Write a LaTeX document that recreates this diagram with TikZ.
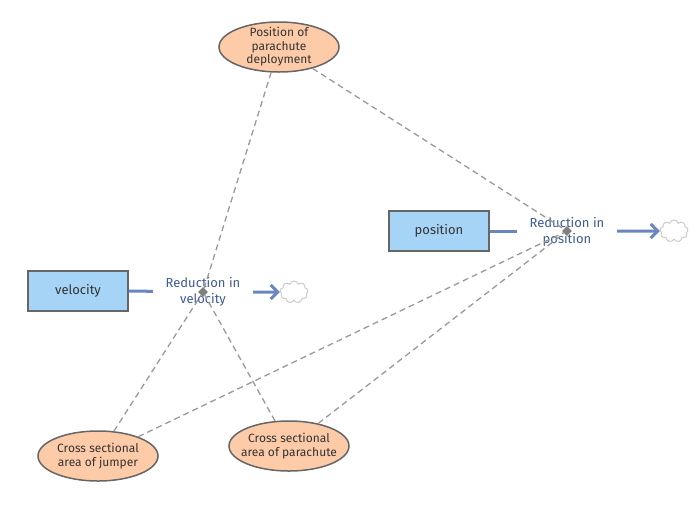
\documentclass[tikz,border=0pt]{standalone}
\usepackage{fontspec}
\setmainfont{Fira Sans}
\usetikzlibrary{shapes.geometric, shapes.symbols, positioning, arrows.meta}
\definecolor{stockblue}{HTML}{A6D4F7}
\definecolor{auxorange}{HTML}{FDCBA8}
\definecolor{flowblue}{HTML}{6A86BF}
\definecolor{flowtext}{HTML}{3D5A99}
\tikzset{stock/.style={draw=black!60, line width=1.5pt, fill=stockblue, minimum width=100pt, minimum height=40pt, font=\fontsize{13}{15}\selectfont, text=black!80},
aux/.style={ellipse, draw=black!60, line width=1.5pt, fill=auxorange, minimum width=120pt, minimum height=50pt, inner sep=-6pt, align=center, font=\fontsize{12}{13.5}\selectfont, text=black!80},
valve/.style={diamond, fill=gray, inner sep=2.5pt},
flowlabel/.style={align=center, text=flowtext, font=\fontsize{13}{16}\selectfont, fill=white, inner sep=1pt},
sink/.style={cloud, cloud puffs=9, draw=black!20, line width=1pt, fill=white, minimum width=28pt, minimum height=22pt},
flow/.style={draw=flowblue, line width=3pt},
link/.style={draw=black!40, line width=1.3pt, dash pattern=on 6pt off 4pt}}
\begin{document}
\begin{tikzpicture}[x=1pt, y=-1pt]
    \useasboundingbox (0,0) rectangle (698,504);
    \node[aux] (deploy) at (279,47) {Position of\\parachute\\deployment};
    \node[aux] (jumper) at (98,456) {Cross sectional\\area of jumper};
    \node[aux] (chute) at (289,446) {Cross sectional\\area of parachute};
    \node[stock] (pos) at (439,231) {position};
    \node[stock] (vel) at (78,291) {velocity};
    \coordinate (cpos) at (567,231);
    \coordinate (cvel) at (203,292);
    \node[sink] (spos) at (674,231) {};
    \node[sink] (svel) at (294,292) {};
    % flows
    \draw[flow] (pos.east) -- (cpos);
    \draw[flow, -{Straight Barb[length=7pt,width=14pt]}] (cpos) -- (spos);
    \draw[flow] (vel.east) -- (cvel);
    \draw[flow, -{Straight Barb[length=7pt,width=14pt]}] (cvel) -- (svel);
    \node[flowlabel, minimum width=100pt] (lpos) at (567,232) {Reduction in\\position};
    \node[flowlabel, minimum width=100pt] (lvel) at (203,292) {Reduction in\\velocity};
    \node[valve] (vpos) at (cpos) {};
    \node[valve] (vvel) at (cvel) {};
    % links
    \draw[link] (deploy) -- (vvel);
    \draw[link] (jumper) -- (vvel);
    \draw[link] (chute) -- (vvel);
    \draw[link] (deploy) -- (vpos);
    \draw[link] (jumper) -- (vpos);
    \draw[link] (chute) -- (vpos);
\end{tikzpicture}
\end{document}
